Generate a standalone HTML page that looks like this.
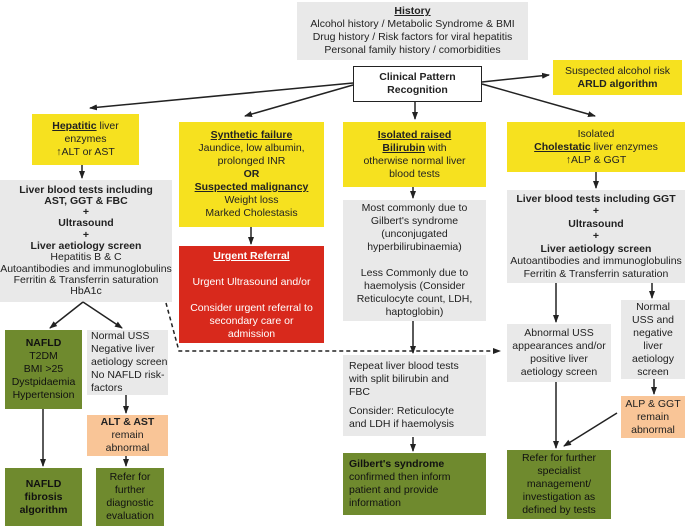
<!DOCTYPE html>
<html><head><style>
body{margin:0;width:685px;height:526px;position:relative;background:#fff;font-family:"Liberation Sans",Arial,sans-serif;font-size:10.5px;color:#222;overflow:hidden}
.b{position:absolute;box-sizing:border-box;text-align:center;line-height:13px;display:flex;flex-direction:column;justify-content:center;align-items:center}
.y{background:#f6e11f}.g{background:#e9e9e9}.r{background:#d8291c;color:#fff}.gr{background:#6f8a2e;color:#111}.o{background:#f9c597}
u{font-weight:bold}b{font-weight:bold}
.l{text-align:left;align-items:flex-start;padding-left:6px}
</style></head><body>
<div class="b g" style="left:297px;top:2px;width:231px;height:58px"><u>History</u>Alcohol history / Metabolic Syndrome &amp; BMI<br>Drug history / Risk factors for viral hepatitis<br>Personal family history / comorbidities</div>
<div class="b" style="left:353px;top:66px;width:129px;height:36px;border:1.5px solid #222;background:#fff"><b>Clinical Pattern<br>Recognition</b></div>
<div class="b y" style="left:553px;top:60px;width:129px;height:35px">Suspected alcohol risk<br><b>ARLD algorithm</b></div>
<div class="b y" style="left:32px;top:114px;width:107px;height:51px"><span><u>Hepatitic</u> liver</span>enzymes<br>↑ALT or AST</div>
<div class="b g" style="left:0;top:180px;width:172px;height:122px;line-height:11.3px"><b>Liver blood tests including<br>AST, GGT &amp; FBC<br>+<br>Ultrasound<br>+<br>Liver aetiology screen</b>Hepatitis B &amp; C<br>Autoantibodies and immunoglobulins<br>Ferritin &amp; Transferrin saturation<br>HbA1c</div>
<div class="b y" style="left:179px;top:122px;width:145px;height:105px"><u>Synthetic failure</u>Jaundice, low albumin,<br>prolonged INR<br><b>OR</b><u>Suspected malignancy</u>Weight loss<br>Marked Cholestasis</div>
<div class="b r" style="left:179px;top:246px;width:145px;height:97px;justify-content:flex-start;padding-top:4px"><u>Urgent Referral</u><br>Urgent Ultrasound and/or<br><br>Consider urgent referral to<br>secondary care or<br>admission</div>
<div class="b y" style="left:343px;top:122px;width:143px;height:65px"><u>Isolated raised</u><span><u>Bilirubin</u> with</span>otherwise normal liver<br>blood tests</div>
<div class="b g" style="left:343px;top:200px;width:143px;height:121px">Most commonly due to<br>Gilbert's syndrome<br>(unconjugated<br>hyperbilirubinaemia)<br><br>Less Commonly due to<br>haemolysis (Consider<br>Reticulocyte count, LDH,<br>haptoglobin)</div>
<div class="b y" style="left:507px;top:122px;width:178px;height:50px">Isolated<br><span><u>Cholestatic</u> liver enzymes</span>↑ALP &amp; GGT</div>
<div class="b g" style="left:507px;top:190px;width:178px;height:93px;line-height:12.5px"><b>Liver blood tests including GGT<br>+<br>Ultrasound<br>+<br>Liver aetiology screen</b>Autoantibodies and immunoglobulins<br>Ferritin &amp; Transferrin saturation</div>
<div class="b gr" style="left:5px;top:330px;width:77px;height:79px"><b>NAFLD</b>T2DM<br>BMI &gt;25<br>Dystpidaemia<br>Hypertension</div>
<div class="b g l" style="left:87px;top:330px;width:81px;height:65px;padding-left:4px">Normal USS<br>Negative liver<br>aetiology screen<br>No NAFLD risk-<br>factors</div>
<div class="b o" style="left:87px;top:415px;width:81px;height:41px"><b>ALT &amp; AST</b>remain<br>abnormal</div>
<div class="b gr" style="left:5px;top:468px;width:77px;height:58px"><b>NAFLD<br>fibrosis<br>algorithm</b></div>
<div class="b gr" style="left:96px;top:468px;width:68px;height:58px">Refer for<br>further<br>diagnostic<br>evaluation</div>
<div class="b g l" style="left:343px;top:355px;width:143px;height:81px;justify-content:center">Repeat liver blood tests<br>with split bilirubin and<br>FBC<br><span style="height:6px"></span>Consider: Reticulocyte<br>and LDH if haemolysis</div>
<div class="b gr l" style="left:343px;top:453px;width:143px;height:62px"><b>Gilbert's syndrome</b>confirmed then inform<br>patient and provide<br>information</div>
<div class="b g" style="left:507px;top:324px;width:104px;height:58px">Abnormal USS<br>appearances and/or<br>positive liver<br>aetiology screen</div>
<div class="b g" style="left:621px;top:300px;width:64px;height:79px">Normal<br>USS and<br>negative<br>liver<br>aetiology<br>screen</div>
<div class="b o" style="left:621px;top:396px;width:64px;height:42px">ALP &amp; GGT<br>remain<br>abnormal</div>
<div class="b gr" style="left:507px;top:450px;width:104px;height:69px">Refer for further<br>specialist<br>management/<br>investigation as<br>defined by tests</div>
<svg width="685" height="526" style="position:absolute;left:0;top:0" fill="none" stroke="#222" stroke-width="1.5">
<defs><marker id="a" markerWidth="8" markerHeight="8" refX="7" refY="4" orient="auto" markerUnits="userSpaceOnUse"><path d="M0,1 L8,4 L0,7z" fill="#222" stroke="none"/></marker></defs>
<g marker-end="url(#a)">
<line x1="353" y1="83" x2="90" y2="108"/>
<line x1="353" y1="85" x2="245" y2="116"/>
<line x1="415" y1="102" x2="415" y2="119"/>
<line x1="482" y1="84" x2="595" y2="116"/>
<line x1="482" y1="82" x2="549" y2="75"/>
<line x1="82" y1="165" x2="82" y2="178"/>
<line x1="251" y1="227" x2="251" y2="244"/>
<line x1="596" y1="172" x2="596" y2="188"/>
<line x1="413" y1="187" x2="413" y2="198"/>
<line x1="83" y1="302" x2="50" y2="328"/>
<line x1="83" y1="302" x2="122" y2="328"/>
<line x1="43" y1="409" x2="43" y2="466"/>
<line x1="126" y1="395" x2="126" y2="413"/>
<line x1="126" y1="456" x2="126" y2="466"/>
<line x1="413" y1="321" x2="413" y2="353"/>
<line x1="413" y1="437" x2="413" y2="451"/>
<line x1="556" y1="283" x2="556" y2="322"/>
<line x1="652" y1="283" x2="652" y2="298"/>
<line x1="654" y1="379" x2="654" y2="394"/>
<line x1="556" y1="382" x2="556" y2="448"/>
<line x1="617" y1="413" x2="564" y2="446"/>
<polyline points="166,303 179,351 500,351" stroke-dasharray="4,3"/>
</g>
</svg>
</body></html>
